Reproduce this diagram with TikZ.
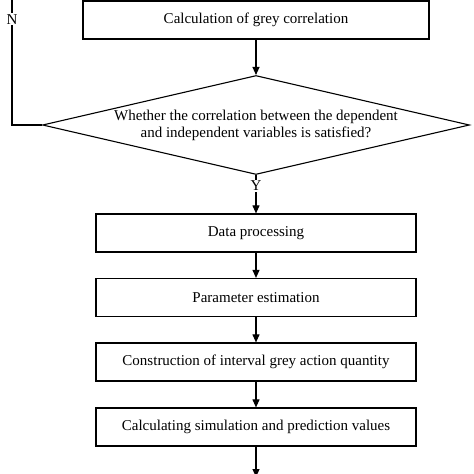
\documentclass[tikz,border=0pt]{standalone}
\usepackage{fontspec}
\setmainfont{Liberation Serif}
\usetikzlibrary{arrows.meta,shapes.geometric}
\begin{document}
\begin{tikzpicture}[x=1pt,y=-1pt,
  procbox/.style={draw,line width=1.2pt,minimum height=38pt,inner sep=0pt,font=\fontsize{15}{17}\selectfont},
  flowarrow/.style={draw,line width=1.1pt,-{Triangle[length=8pt,width=7pt]}},
  lbl/.style={font=\fontsize{15}{17}\selectfont,fill=white,inner sep=1pt}]
\useasboundingbox (0,0) rectangle (474,474);
\coordinate (topin) at (256,-1);
\coordinate (botout) at (256,477);
\coordinate (nturn) at (12,125);
\coordinate (ntop) at (12,-1);
\node[procbox,minimum width=346pt] (calc) at (256,20) {Calculation of grey correlation};
\node[draw,line width=1.1pt,diamond,aspect=4.31,minimum width=427pt,minimum height=99pt,inner sep=0pt,align=center,font=\fontsize{15}{17}\selectfont] (dec) at (256,125) {Whether the correlation between the dependent\\and independent variables is satisfied?};
\node[procbox,minimum width=320pt] (data) at (256,233) {Data processing};
\node[procbox,minimum width=320pt] (param) at (256,297.5) {Parameter estimation};
\node[procbox,minimum width=320pt] (cons) at (256,362) {Construction of interval grey action quantity};
\node[procbox,minimum width=320pt] (sim) at (256,427) {Calculating simulation and prediction values};
\draw[flowarrow] (topin) -- (calc);
\draw[flowarrow] (calc) -- (dec);
\draw[line width=1.1pt] (dec.west) -- (nturn) -- node[lbl,pos=0.84] {N} (ntop);
\node[lbl] (ylab) at (256,186) {Y};
\draw[line width=1.1pt] (dec.south) -- (ylab);
\draw[flowarrow] (ylab) -- (data);
\draw[flowarrow] (data) -- (param);
\draw[flowarrow] (param) -- (cons);
\draw[flowarrow] (cons) -- (sim);
\draw[flowarrow] (sim) -- (botout);
\end{tikzpicture}
\end{document}
